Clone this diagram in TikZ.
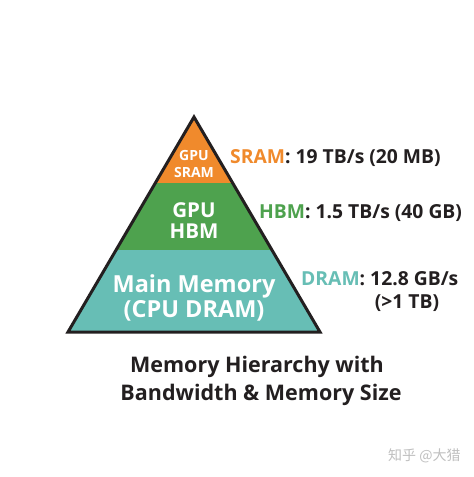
\documentclass[tikz,border=0pt]{standalone}
\usepackage{fontspec}
\setmainfont{Open Sans}
\newfontfamily\cjkfont{Noto Sans CJK SC}
\definecolor{sramc}{HTML}{F08A2C}
\definecolor{hbmc}{HTML}{4EA24E}
\definecolor{dramc}{HTML}{67BEB5}
\definecolor{txt}{HTML}{231F20}
\tikzset{
  lbl/.style={anchor=base west, inner sep=0pt, text=txt, font=\bfseries\fontsize{19.3}{22}\selectfont},
  ptxt/.style={anchor=base, inner sep=0pt, text=white, font=\bfseries},
  ttl/.style={anchor=base, inner sep=0pt, text=txt, font=\bfseries\fontsize{21.5}{24}\selectfont},
}
\begin{document}
\begin{tikzpicture}[x=1pt,y=-1pt]
\fill[white] (0,0) rectangle (474,477);
\useasboundingbox (0,0) rectangle (474,477);
\coordinate (apex) at (194,117);
\coordinate (bl) at (68,332);
\coordinate (br) at (320,332);
\begin{scope}
  \clip (apex) -- (bl) -- (br) -- cycle;
  \fill[sramc] (60,110) rectangle (330,183);
  \fill[hbmc] (60,183) rectangle (330,250);
  \fill[dramc] (60,250) rectangle (330,340);
\end{scope}
\draw[line width=3pt, line join=miter, txt] (apex) -- (bl) -- (br) -- cycle;
% pyramid texts
\node[ptxt, font=\bfseries\fontsize{14}{16}\selectfont] (g1) at (194,160) {GPU};
\node[ptxt, font=\bfseries\fontsize{14}{16}\selectfont] (s1) at (194,177) {SRAM};
\node[ptxt, font=\bfseries\fontsize{20.5}{24}\selectfont] (g2) at (194,217) {GPU};
\node[ptxt, font=\bfseries\fontsize{20.5}{24}\selectfont] (h2) at (194,238) {HBM};
\node[ptxt, font=\bfseries\fontsize{23.5}{26}\selectfont] (m3) at (194,292) {Main Memory};
\node[ptxt, font=\bfseries\fontsize{23.5}{26}\selectfont] (c3) at (194,317) {(CPU DRAM)};
% labels
\node[lbl] (l1) at (230,163) {\textcolor{sramc}{SRAM}: 19 TB/s (20 MB)};
\node[lbl] (l2) at (259,218) {\textcolor{hbmc}{HBM}: 1.5 TB/s (40 GB)};
\node[lbl] (l3) at (301,285) {\textcolor{dramc}{DRAM}: 12.8 GB/s};
\node[lbl, anchor=base] (l4) at (407,308) {(>1 TB)};
% title
\node[ttl] (t1) at (257,372) {Memory Hierarchy with};
\node[ttl] (t2) at (261,400) {Bandwidth \& Memory Size};
% watermark
\node[anchor=base west, inner sep=0pt, text=black!25, font=\cjkfont\fontsize{14}{16}\selectfont] (wm) at (388,460) {知乎 @大猎};
\end{tikzpicture}
\end{document}
